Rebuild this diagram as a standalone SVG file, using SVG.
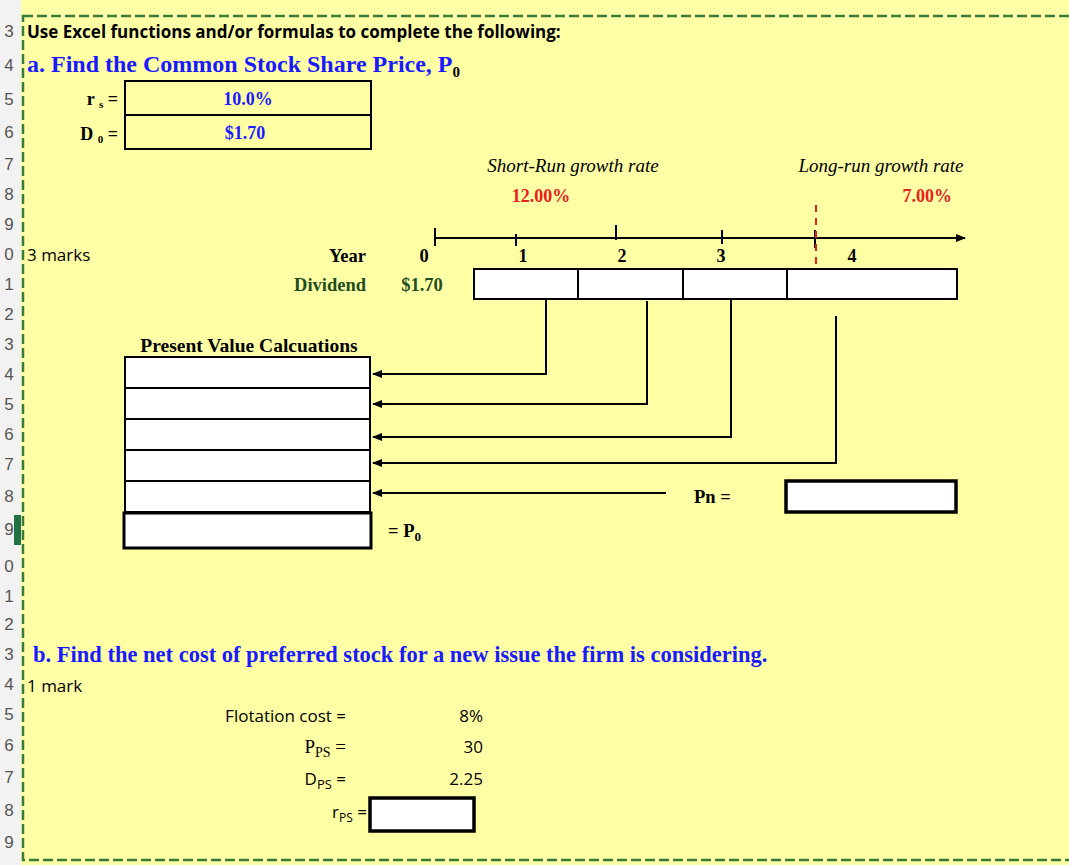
<svg xmlns="http://www.w3.org/2000/svg" width="1069" height="865" viewBox="0 0 1069 865">
<style>
.h{font-family:"Liberation Sans",Arial,sans-serif;font-size:17px;fill:#555}
.c{font-family:"Open Sans","Liberation Sans",sans-serif;font-size:17px;fill:#000}
.t{font-family:"Liberation Serif","Times New Roman",serif;font-weight:bold}
.w{fill:#fff;stroke:#000;stroke-width:2}
.ln{fill:none;stroke:#000;stroke-width:2}
</style>
<defs><marker id="a" markerWidth="10" markerHeight="8" refX="9" refY="4" orient="auto" markerUnits="userSpaceOnUse"><path d="M0,0L10,4L0,8z" fill="#000"/></marker></defs>
<rect width="1069" height="865" fill="#ffffa6"/>
<rect x="0" y="0" width="21" height="865" fill="#f2f2f2"/>
<rect x="14" y="515" width="7" height="30" fill="#217346"/>
<g class="h" text-anchor="middle">
<text x="9" y="37">3</text><text x="9" y="71">4</text><text x="9" y="105">5</text><text x="9" y="138">6</text><text x="9" y="170">7</text><text x="9" y="200">8</text><text x="9" y="230">9</text><text x="9" y="260">0</text><text x="9" y="290">1</text><text x="9" y="320">2</text><text x="9" y="350">3</text><text x="9" y="380">4</text><text x="9" y="410">5</text><text x="9" y="440">6</text><text x="9" y="470">7</text><text x="9" y="502">8</text><text x="9" y="535">9</text><text x="9" y="572">0</text><text x="9" y="602">1</text><text x="9" y="630">2</text><text x="9" y="660">3</text><text x="9" y="690">4</text><text x="9" y="720">5</text><text x="9" y="751">6</text><text x="9" y="783">7</text><text x="9" y="816">8</text><text x="9" y="848">9</text>
</g>
<rect x="23" y="16" width="1070" height="844" fill="none" stroke="#3a7a3a" stroke-width="2.5" stroke-dasharray="10,4"/>
<g id="header">
<text x="27" y="38" class="c" font-weight="bold" font-size="20.5">Use Excel functions and/or formulas to complete the following:</text>
<text x="27" y="72" class="t" font-size="24" fill="#1a1aff">a.  Find the Common Stock Share Price, P<tspan font-size="15" dy="5" fill="#000">0</tspan></text>
</g>
<g id="inputs" class="t" font-size="18">
<text x="118" y="105" text-anchor="end">r <tspan font-size="11" dy="3">s</tspan><tspan dy="-3"> =</tspan></text>
<text x="118" y="140" text-anchor="end">D <tspan font-size="11" dy="3">0</tspan><tspan dy="-3"> =</tspan></text>
<rect x="125" y="81" width="246" height="34" fill="none" stroke="#000" stroke-width="2"/>
<rect x="125" y="115" width="246" height="34" fill="none" stroke="#000" stroke-width="2"/>
<text x="248" y="105" text-anchor="middle" fill="#1a1aff">10.0%</text>
<text x="245" y="139" text-anchor="middle" fill="#1a1aff">$1.70</text>
</g>
<g id="growth" font-family="Liberation Serif,serif" font-size="19">
<text x="573" y="172" text-anchor="middle" font-style="italic">Short-Run growth rate</text>
<text x="881" y="172" text-anchor="middle" font-style="italic">Long-run growth rate</text>
<text x="541" y="202" text-anchor="middle" font-weight="bold" fill="#e8201c" font-size="18">12.00%</text>
<text x="952" y="202" text-anchor="end" font-weight="bold" fill="#e8201c" font-size="18">7.00%</text>
</g>
<g id="timeline">
<line x1="435" y1="238" x2="965" y2="238" class="ln" marker-end="url(#a)"/>
<line x1="435" y1="228" x2="435" y2="246" class="ln"/>
<line x1="516" y1="234" x2="516" y2="246" class="ln"/>
<line x1="616" y1="225" x2="616" y2="240" class="ln"/>
<line x1="722" y1="230" x2="722" y2="244" class="ln"/>
<line x1="815" y1="230" x2="815" y2="248" class="ln"/>
<line x1="816" y1="205" x2="816" y2="298" stroke="#e8201c" stroke-width="2" stroke-dasharray="7,6"/>
<g class="t" font-size="18" text-anchor="middle"><text x="523" y="262">1</text><text x="622" y="262">2</text><text x="721" y="262">3</text><text x="852" y="262">4</text></g>
</g>
<g id="labels" class="t" font-size="18.5">
<text x="366" y="262" text-anchor="end">Year</text>
<text x="424" y="262" text-anchor="middle">0</text>
<text x="366" y="291" text-anchor="end" fill="#1f4d1f">Dividend</text>
<text x="422" y="291" text-anchor="middle" fill="#1f4d1f">$1.70</text>
<text x="27" y="261" class="c" font-weight="normal" font-size="18">3 marks</text>
<text x="249" y="352" text-anchor="middle" font-size="19.5">Present Value Calcuations</text>
</g>
<g id="dividends">
<rect x="474" y="269" width="104" height="30" class="w"/>
<rect x="578" y="269" width="105" height="30" class="w"/>
<rect x="683" y="269" width="104" height="30" class="w"/>
<rect x="787" y="269" width="170" height="30" class="w"/>
</g>
<g id="pv">
<rect x="125" y="357" width="245" height="31" class="w"/>
<rect x="125" y="388" width="245" height="31" class="w"/>
<rect x="125" y="419" width="245" height="31" class="w"/>
<rect x="125" y="450" width="245" height="31" class="w"/>
<rect x="125" y="481" width="245" height="31" class="w"/>
<rect x="124" y="513" width="247" height="35" fill="#fff" stroke="#000" stroke-width="3"/>
<text x="388" y="537" class="t" font-size="18.5">=  P<tspan font-size="13" dy="4">0</tspan></text>
</g>
<g id="connectors" class="ln">
<polyline points="546,299 546,374 373,374" marker-end="url(#a)"/>
<polyline points="647,301 647,404 373,404" marker-end="url(#a)"/>
<polyline points="731,299 731,437 373,437" marker-end="url(#a)"/>
<polyline points="836,316 836,463 373,463" marker-end="url(#a)"/>
<polyline points="666,493 373,493" marker-end="url(#a)"/>
</g>
<g id="pn">
<text x="694" y="503" class="t" font-size="18.5">Pn  =</text>
<rect x="786" y="481" width="170" height="31" fill="#fff" stroke="#000" stroke-width="3.5"/>
</g>
<g id="partb">
<text x="33" y="662" class="t" font-size="22.5" fill="#1a1aff">b.  Find the net cost of preferred stock for a new issue the firm is considering.</text>
<text x="27" y="692" class="c" font-size="18">1 mark</text>
<text x="346" y="722" class="c" text-anchor="end" font-size="18">Flotation cost  =</text>
<text x="483" y="722" class="c" text-anchor="end" font-size="18">8%</text>
<text x="346" y="753" font-family="Liberation Serif,serif" font-size="19" text-anchor="end">P<tspan font-size="14" dy="4">PS</tspan><tspan dy="-4"> =</tspan></text>
<text x="483" y="753" class="c" text-anchor="end" font-size="18">30</text>
<text x="346" y="785" class="c" text-anchor="end" font-size="18">D<tspan font-size="13" dy="4">PS</tspan><tspan dy="-4"> =</tspan></text>
<text x="483" y="785" class="c" text-anchor="end" font-size="18">2.25</text>
<text x="367" y="818" class="c" text-anchor="end" font-size="16">r<tspan font-size="12" dy="4">PS</tspan><tspan dy="-4"> =</tspan></text>
<rect x="370" y="798" width="104" height="33" fill="#fff" stroke="#000" stroke-width="3.5"/>
</g>
</svg>
